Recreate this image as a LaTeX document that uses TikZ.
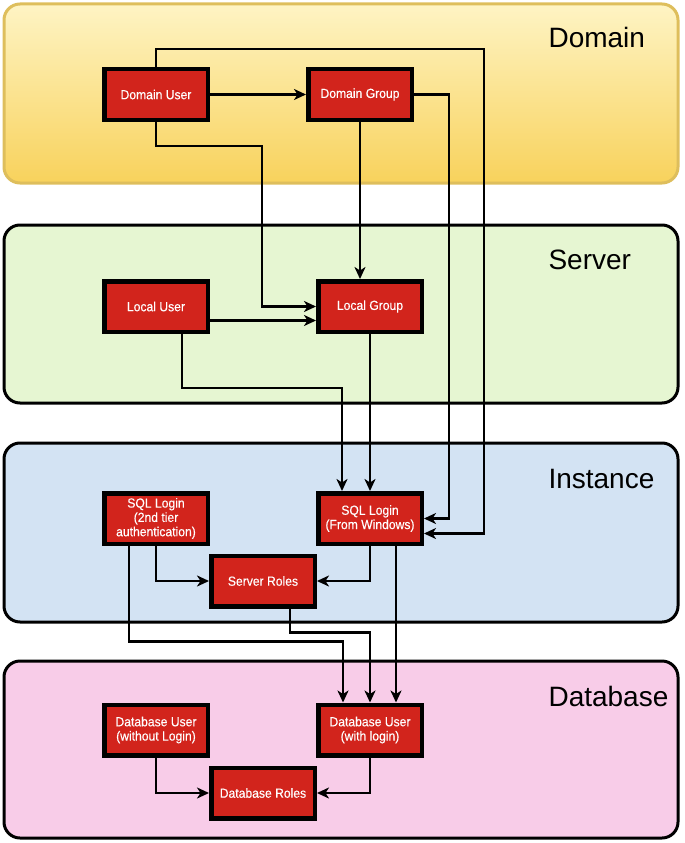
\documentclass[tikz,border=0pt]{standalone}
\usepackage{fontspec}
\setmainfont{Liberation Sans}
\newfontfamily\boxfont[FakeStretch=0.92,FakeBold=0.3]{Liberation Sans}
\usetikzlibrary{calc,arrows.meta}

\definecolor{boxred}{RGB}{210,36,28}
\definecolor{domtop}{RGB}{254,244,196}
\definecolor{dombottom}{RGB}{248,210,92}
\definecolor{domline}{RGB}{222,190,92}
\definecolor{srvfill}{RGB}{230,246,210}
\definecolor{insfill}{RGB}{211,227,243}
\definecolor{dbfill}{RGB}{248,204,232}

\begin{document}
\begin{tikzpicture}[x=1pt,y=-1pt,
  tier/.style={line width=3pt, rounded corners=16pt},
  role/.style={draw=black, fill=boxred, line width=4.5pt, minimum width=103.5pt,
    minimum height=50.5pt, inner sep=2pt, align=center, text=white,
    font=\boxfont\fontsize{13.2}{14.3}\selectfont},
  link/.style={line width=2.4pt, -{Stealth[length=12pt,width=11pt,inset=3.5pt]}},
  title/.style={anchor=base west, font=\fontsize{28}{30}\selectfont}]

% Define dimensions
\def\l{4}      % left edge of the bands
\def\r{678}    % right edge of the bands
\def\t{545}    % left edge of the band titles

\useasboundingbox (0,0) rectangle (685,843);

% Draw bands
\draw[tier, draw=domline, top color=domtop, bottom color=dombottom] (\l,4) rectangle (\r,183);
\draw[tier, fill=srvfill] (\l,225) rectangle (\r,403);
\draw[tier, fill=insfill] (\l,443) rectangle (\r,622);
\draw[tier, fill=dbfill] (\l,661) rectangle (\r,838);

% Band titles
\node[title] at (\t,48) {Domain};
\node[title] at (\t,269) {Server};
\node[title] at (\t,488) {Instance};
\node[title] at (\t,706) {Database};

% Boxes
\node[role] (du) at (156,94.5) {Domain User};
\node[role] (dg) at (360,94.5) {Domain Group};
\node[role] (lu) at (156,306.5) {Local User};
\node[role] (lg) at (370,306.5) {Local Group};
\node[role] (sq) at (156,518.5) {SQL Login\\(2nd tier\\authentication)};
\node[role] (sw) at (370,518.5) {SQL Login\\(From Windows)};
\node[role] (sr) at (263,581) {Server Roles};
\node[role] (dn) at (156,730) {Database User\\(without Login)};
\node[role] (dw) at (370,730) {Database User\\(with login)};
\node[role] (dr) at (263,793) {Database Roles};

% Bend points
\coordinate (k1) at (484,49);
\coordinate (k2) at (449,94.5);

% Domain links
\draw[link] (du) -- (dg);
\draw[link] (du.north) |- (k1) |- ($(sw.east)+(0,15)$);
\draw[link] (dg.east) -- (k2) |- (sw.east);
\draw[link] (du.south) -- ++(0,24) -| ($(lg.west)+(-54,0)$) -- (lg.west);
\draw[link] (dg.south) -- (dg.south |- lg.north);

% Server links
\draw[link] ($(lu.east)+(0,14)$) -- ($(lg.west)+(0,14)$);
\draw[link] ($(lu.south)+(26,0)$) |- ($(sw.north)+(-28,-103)$) -- ($(sw.north)+(-28,0)$);
\draw[link] (lg.south) -- (sw.north);

% Instance links
\draw[link] (sq.south) |- (sr.west);
\draw[link] (sw.south) |- (sr.east);
\draw[link] ($(sq.south)+(-27,0)$) |- ($(dw.north)+(-27,-61)$) -- ($(dw.north)+(-27,0)$);
\draw[link] ($(sr.south)+(27,0)$) |- ($(dw.north)+(0,-70)$) -- (dw.north);
\draw[link] ($(sw.south)+(26,0)$) -- ($(dw.north)+(26,0)$);

% Database links
\draw[link] (dn.south) |- (dr.west);
\draw[link] (dw.south) |- (dr.east);

\end{tikzpicture}
\end{document}
